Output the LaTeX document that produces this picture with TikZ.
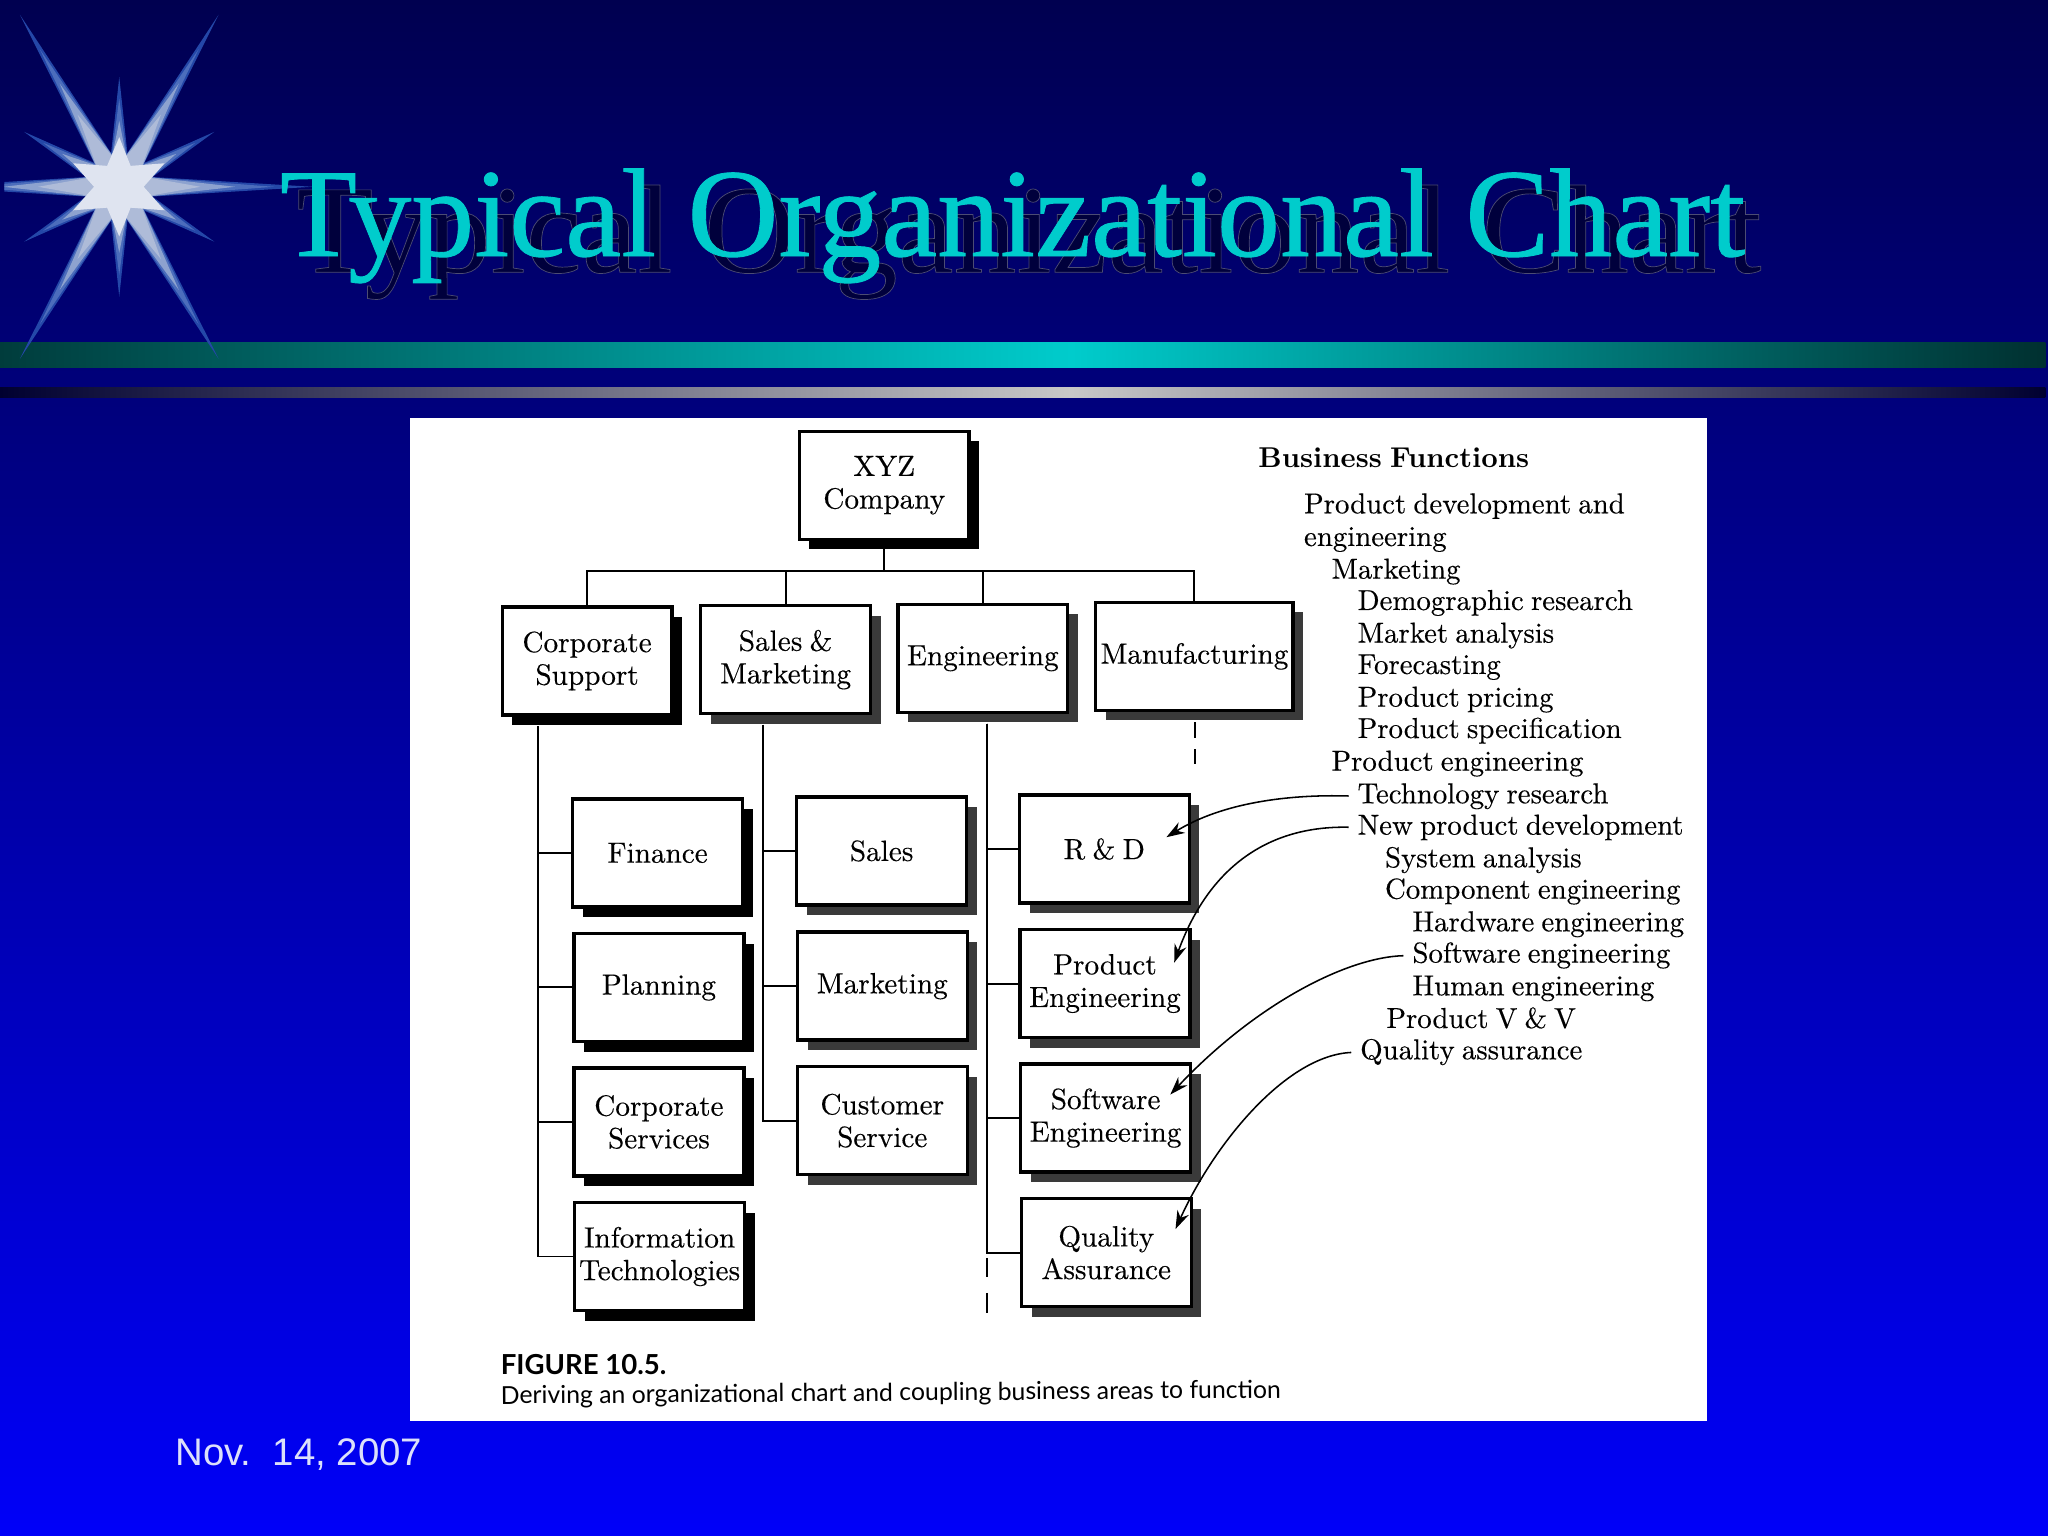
\documentclass[tikz,border=0pt]{standalone}
\usepackage{fontspec}
\usepackage{tikz}
\usetikzlibrary{arrows.meta, positioning, shadows}
\newfontfamily\titlefont{Liberation Serif}
\newfontfamily\datefont{Liberation Sans}
\newfontfamily\capfont{Lato}
\newfontfamily\scanfont{Latin Modern Roman}[WordSpace=0.75, UprightFeatures={FakeBold=0.3}]
\definecolor{bgtop}{HTML}{000050}
\definecolor{bgbottom}{HTML}{0000F8}
\definecolor{titlecyan}{HTML}{00CCCC}
\definecolor{titleshade}{HTML}{00003C}
\definecolor{tealend}{HTML}{003C3C}
\definecolor{tealright}{HTML}{003030}
\definecolor{grayend}{HTML}{000030}
\definecolor{graymid}{HTML}{C8C8C8}
\definecolor{rayA}{HTML}{2447A8}
\definecolor{rayB}{HTML}{4C6DBC}
\definecolor{rayC}{HTML}{8DA2CF}
\definecolor{rayD}{HTML}{AEBBD8}
\definecolor{starcore}{HTML}{DFE4F0}
\definecolor{datecolor}{HTML}{DCE0FA}
\definecolor{shadegray}{HTML}{3A3A3A}
\tikzset{
	orgbox/.style={draw=black, line width=1.2pt, fill=white, inner sep=0pt, align=center,
		minimum width=60.4pt, minimum height=38.4pt,
		font=\scanfont\fontsize{10.4}{11.6}\selectfont,
		general shadow={fill=#1, shadow xshift=3.6pt, shadow yshift=-3.6pt}},
	orgbox/.default=black,
	funcitem/.style={anchor=base west, inner sep=0pt, font=\scanfont\fontsize{10.25}{12}\selectfont},
	orgline/.style={line width=0.7pt},
	coupling/.style={->, line width=0.55pt, shorten <=3pt}
}
\begin{document}
\begin{tikzpicture}[x=0.0163265cm, y=-0.0163265cm, >={Stealth[length=6.5pt, width=4.4pt]}]
	\useasboundingbox (0,0) rectangle (1568,1176);
	\shade[top color=bgtop, bottom color=bgbottom] (0,0) rectangle (1568,1176);

	% bars under the title
	\shade[left color=tealend, right color=titlecyan] (0,262) rectangle (820,281);
	\shade[left color=titlecyan, right color=tealright] (820,262) rectangle (1566,281);
	\shade[left color=grayend, right color=graymid] (0,297) rectangle (820,304);
	\shade[left color=graymid, right color=grayend] (820,297) rectangle (1566,304);

	% star
	\begin{scope}
		\clip (3.4,0) rectangle (400,300);
		\foreach \frac/\wid/\col in {1/9/rayA, 0.8/9/rayB, 0.6/10/rayC, 0.42/11/rayD} {
			\foreach \ang/\len in {60/152, 120/152, 240/152, 300/152, 30/84, 150/84, 210/84, 330/84, 90/84, 270/84, 0/148, 180/148} {
				\fill[\col, shift={(91.3,143)}, rotate=\ang] (0,-\wid) -- (\frac*\len,0) -- (0,\wid) -- cycle;
			}
		}
		\fill[starcore] (91.3,105) -- (100,127) -- (126,125) -- (110,143) -- (126,161) -- (100,159)
			-- (91.3,181) -- (82,159) -- (56,161) -- (72,143) -- (56,125) -- (82,127) -- cycle;
	\end{scope}

	% title
	\node (titleback) [anchor=base west, inner sep=0pt, text=titleshade, font=\titlefont\fontsize{44.8}{50}\selectfont] at (226.5,208.5)
		{\special{pdf:literal 2 Tr 0.25 w 0.3 0.3 0.45 RG}Typical Organizational Chart\special{pdf:literal 0 Tr}};
	\node (title) [anchor=base west, inner sep=0pt, text=titlecyan, font=\titlefont\fontsize{44.8}{50}\selectfont] at (214,196)
		{\special{pdf:literal 2 Tr 0.3 w 0 0.8 0.8 RG}Typical Organizational Chart\special{pdf:literal 0 Tr}};

	% scanned page
	\fill[white] (314,320) rectangle (1307,1088);

	\node[orgbox] (xyz) at (677,371.5) {XYZ\\Company};
	\node[orgbox] (corp) at (449.5,506) {Corporate\\Support};
	\node[orgbox=shadegray] (salesmkt) at (601.5,505) {Sales \&\\Marketing};
	\node[orgbox=shadegray] (eng) at (752.5,504) {Engineering};
	\node[orgbox=shadegray, minimum width=70.2pt] (mfg) at (914.5,502.5) {Manufacturing};

	\node[orgbox] (finance) at (503.5,653) {Finance};
	\node[orgbox] (planning) at (504.5,756) {Planning};
	\node[orgbox] (corpserv) at (504.5,859) {Corporate\\Services};
	\node[orgbox] (infotech) at (505,962) {Information\\Technologies};

	\node[orgbox=shadegray] (sales) at (675,651.5) {Sales};
	\node[orgbox=shadegray] (marketing) at (675.5,755) {Marketing};
	\node[orgbox=shadegray] (custserv) at (675.5,858) {Customer\\Service};

	\node[orgbox=shadegray] (rd) at (845.5,650) {R \& D};
	\node[orgbox=shadegray] (prodeng) at (846,753) {Product\\Engineering};
	\node[orgbox=shadegray] (softeng) at (846.5,856) {Software\\Engineering};
	\node[orgbox=shadegray] (quality) at (847,959) {Quality\\Assurance};

	\node (busfunc) [anchor=base west, inner sep=0pt, font=\scanfont\fontsize{10.2}{12}\selectfont\bfseries] at (963,358) {Business Functions};
	\node[funcitem] (pd) at (998,393) {Product development and};
	\node[funcitem] (pdb) at (998,418) {engineering};
	\node[funcitem] (mk) at (1019,443) {Marketing};
	\node[funcitem] (demo) at (1039,467) {Demographic research};
	\node[funcitem] (market) at (1039,492) {Market analysis};
	\node[funcitem] (fore) at (1039,516) {Forecasting};
	\node[funcitem] (pricing) at (1039,541) {Product pricing};
	\node[funcitem] (spec) at (1039,565) {Product specification};
	\node[funcitem] (pe) at (1019,590) {Product engineering};
	\node[funcitem] (tech) at (1039,615) {Technology research};
	\node[funcitem] (newprod) at (1039,639) {New product development};
	\node[funcitem] (sysan) at (1060,664) {System analysis};
	\node[funcitem] (comp) at (1060,688) {Component engineering};
	\node[funcitem] (hw) at (1081,713) {Hardware engineering};
	\node[funcitem] (sw) at (1081,737) {Software engineering};
	\node[funcitem] (human) at (1081,762) {Human engineering};
	\node[funcitem] (vv) at (1061,787) {Product\ V \& V};
	\node[funcitem] (qa) at (1041,811) {Quality assurance};

	\node (figlabel) [anchor=base west, inner sep=0pt, font=\capfont\bfseries\fontsize{9.8}{11}\selectfont] at (383,1052) {FIGURE 10.5.};
	\node (figcap) [anchor=base west, inner sep=0pt, rotate=0.45, font=\capfont\fontsize{8.82}{11}\selectfont] at (383,1075)
		{Deriving an organizational chart and coupling business areas to function};

	\node (date) [anchor=base west, inner sep=0pt, text=datecolor, font=\datefont\fontsize{13.65}{16}\selectfont] at (134,1122) {Nov.\ \ 14, 2007};

	% tree
	\coordinate (bus) at (677,437);
	\coordinate (corpdrop) at (412,556);
	\coordinate (salesdrop) at (584,555);
	\coordinate (engdrop) at (756,554);
	\coordinate (engsolid) at (756,963);
	\coordinate (engend) at (756,1007);
	\coordinate (mfgdrop) at (915,553);
	\coordinate (mfgend) at (915,587);

	\draw[orgline] (xyz.south) -- (bus);
	\draw[orgline] (corp.north) |- (bus);
	\draw[orgline] (salesmkt.north) |- (bus);
	\draw[orgline] (eng.north) |- (bus);
	\draw[orgline] (mfg.north) |- (bus);

	\foreach \child in {finance, planning, corpserv, infotech}
		\draw[orgline] (corpdrop) |- (\child.west);
	\foreach \child in {sales, marketing, custserv}
		\draw[orgline] (salesdrop) |- (\child.west);
	\foreach \child in {rd, prodeng, softeng, quality}
		\draw[orgline] (engdrop) |- (\child.west);
	\draw[orgline, dash pattern=on 7pt off 5.5pt] (engsolid) -- (engend);
	\draw[orgline, dash pattern=on 5.5pt off 4pt] (mfgdrop) -- (mfgend);

	% coupling arrows
	\coordinate (rdtip) at (893,641);
	\coordinate (prodengtip) at (899,737);
	\coordinate (softengtip) at (896,838);
	\coordinate (qualitytip) at (900,941);
	\draw[coupling] (tech.west) .. controls (985,608) and (935,615) .. (rdtip);
	\draw[coupling] (newprod.west) .. controls (970,632) and (925,665) .. (prodengtip);
	\draw[coupling] (sw.west) .. controls (1030,733) and (960,770) .. (softengtip);
	\draw[coupling] (qa.west) .. controls (985,808) and (930,875) .. (qualitytip);
\end{tikzpicture}
\end{document}
